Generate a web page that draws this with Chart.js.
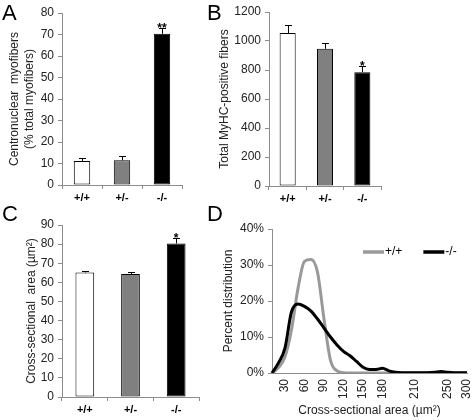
<!DOCTYPE html>
<html>
<head>
<meta charset="utf-8">
<script src="https://cdn.jsdelivr.net/npm/chart.js@4.4.0/dist/chart.umd.min.js"></script>
<style>
    html, body { margin: 0; padding: 0; background: #fff; }
    #painel { position: relative; width: 474px; height: 420px; overflow: hidden; font-family: "Liberation Sans", Arial, sans-serif; }
    #painel canvas { position: absolute; }
    .letra { position: absolute; font-size: 22px; line-height: 1; color: #000; }
</style>
</head>
<body>
<div id="painel">
    <canvas id="graficoA" width="237" height="210" style="left:0;top:0"></canvas>
    <canvas id="graficoB" width="274" height="210" style="left:200px;top:0"></canvas>
    <canvas id="graficoC" width="237" height="210" style="left:0;top:210px"></canvas>
    <canvas id="graficoD" width="274" height="210" style="left:200px;top:210px"></canvas>
    <div class="letra" style="left:2px;top:2px">A</div>
    <div class="letra" style="left:207px;top:2px">B</div>
    <div class="letra" style="left:2px;top:203px">C</div>
    <div class="letra" style="left:207px;top:203px">D</div>
</div>
<script>
// genotipos e cores das barras
const genotipos = ['+/+', '+/-', '-/-'];
const coresBarras = ['#ffffff', '#808080', '#000000'];

// A - fibras centronucleares (% do total)
const centronucleares = [11.2, 11.5, 70.3];
const centronuclearesErro = [1.2, 1.8, 2.8];
const centronuclearesSig = ['', '', '**'];

// B - total de fibras MyHC positivas
const fibrasTotais = [1055, 946, 785];
const fibrasTotaisErro = [58, 38, 45];
const fibrasTotaisSig = ['', '', '*'];

// C - area de secao transversal
const areaSecao = [65.2, 64.4, 80.3];
const areaSecaoErro = [0.8, 0.8, 2.8];
const areaSecaoSig = ['', '', '*'];

// D - distribuicao da area de secao transversal
const rotulosArea = ['', '', '30', '', '', '60', '', '', '90', '', '', '120', '', '', '150', '', '', '180',
    '', '', '', '', '210', '', '', '', '', '250', '', '', '300'];
const distribuicaoSelvagem = [0, 1.5, 4.5, 12, 23.5, 31, 31.5, 28, 15, 3.5, 0.6, 0.1, 0, 0, 0, 0,
    0, 0, 0, 0, 0, 0, 0, 0, 0, 0, 0, 0, 0, 0, 0];
const distribuicaoKO = [0, 2.8, 7, 17, 19.2, 18.5, 17.2, 15, 12.5, 10, 7.8, 6, 4.8, 3.2, 1.6, 1.0,
    1.0, 1.3, 0.6, 0.2, 0.1, 0.1, 0.1, 0.1, 0.1, 0.2, 0.4, 0.2, 0.1, 0.1, 0.1];

Chart.defaults.font.family = '"Liberation Sans", Arial, sans-serif';
Chart.defaults.font.size = 12;
Chart.defaults.color = '#222';

// barras de erro (so para cima) e asteriscos de significancia
const pluginBarrasErro = {
    id: 'barrasErro',
    afterDatasetsDraw(chart, args, opts) {
        if (!opts.erros) return;
        const { ctx } = chart;
        const y = chart.scales.y;
        const valores = chart.data.datasets[0].data;
        ctx.save();
        ctx.strokeStyle = '#000';
        ctx.lineWidth = 1;
        ctx.fillStyle = '#000';
        ctx.font = 'bold 12px "Liberation Sans", Arial, sans-serif';
        ctx.textAlign = 'center';
        chart.getDatasetMeta(0).data.forEach((barra, i) => {
            const yBarra = y.getPixelForValue(valores[i]);
            const yTopo = Math.round(y.getPixelForValue(valores[i] + opts.erros[i])) + 0.5;
            const xc = Math.round(barra.x) + 0.5;
            ctx.beginPath();
            ctx.moveTo(xc, yBarra);
            ctx.lineTo(xc, yTopo);
            ctx.moveTo(xc - 3.5, yTopo);
            ctx.lineTo(xc + 3.5, yTopo);
            ctx.stroke();
            if (opts.sig && opts.sig[i]) {
                ctx.fillText(opts.sig[i], barra.x, yTopo + 3);
            }
        });
        ctx.restore();
    }
};

// legenda desenhada dentro da area do grafico
const pluginLegenda = {
    id: 'legendaInterna',
    afterDraw(chart, args, opts) {
        if (!opts.ativa) return;
        const { ctx, chartArea } = chart;
        let x = chartArea.left + opts.x;
        const y = chartArea.top + opts.y;
        ctx.save();
        ctx.font = '12px "Liberation Sans", Arial, sans-serif';
        ctx.textBaseline = 'middle';
        ctx.textAlign = 'left';
        chart.data.datasets.forEach(ds => {
            ctx.strokeStyle = ds.borderColor;
            ctx.lineWidth = 3.5;
            ctx.beginPath();
            ctx.moveTo(x, y);
            ctx.lineTo(x + opts.comprimento, y);
            ctx.stroke();
            x += opts.comprimento + 1;
            ctx.fillStyle = '#000';
            ctx.fillText(ds.label, x, y);
            x += ctx.measureText(ds.label).width + opts.espaco;
        });
        ctx.restore();
    }
};

// rotulos do eixo x na vertical (lidos de baixo para cima)
const pluginRotulosVerticais = {
    id: 'rotulosVerticais',
    afterDraw(chart, args, opts) {
        if (!opts.ativa) return;
        const { ctx } = chart;
        const eixoX = chart.scales.x;
        ctx.save();
        ctx.font = '12px "Liberation Sans", Arial, sans-serif';
        ctx.fillStyle = '#222';
        ctx.textAlign = 'right';
        ctx.textBaseline = 'middle';
        chart.data.labels.forEach((rotulo, i) => {
            if (!rotulo) return;
            ctx.save();
            ctx.translate(eixoX.getPixelForValue(i), eixoX.top + opts.distancia);
            ctx.rotate(-Math.PI / 2);
            ctx.fillText(rotulo, 0, 0);
            ctx.restore();
        });
        ctx.restore();
    }
};

Chart.register(pluginBarrasErro, pluginLegenda, pluginRotulosVerticais);

function eixoY(max, passo, larguraEixo, titulo, tituloPad, formato) {
    return {
        min: 0,
        max: max,
        afterFit: (escala) => { escala.width = larguraEixo; },
        border: { display: true, color: '#8c8c8c', width: 1 },
        grid: { drawOnChartArea: false, drawTicks: true, tickLength: 4, color: '#8c8c8c' },
        ticks: {
            stepSize: passo,
            padding: 4,
            color: '#222',
            callback: formato || ((v) => v)
        },
        title: {
            display: true,
            text: titulo,
            color: '#222',
            font: { size: 12, lineHeight: 1.2 },
            padding: { top: tituloPad, bottom: 0 }
        }
    };
}

function criarGraficoBarras(idCanvas, valores, erros, sig, cfg) {
    const ctx = document.getElementById(idCanvas);
    return new Chart(ctx.getContext('2d'), {
        type: 'bar',
        data: {
            labels: genotipos,
            datasets: [{
                data: valores,
                backgroundColor: coresBarras,
                borderColor: '#000',
                borderWidth: 1,
                borderSkipped: false,
                categoryPercentage: 1,
                barPercentage: cfg.barra
            }]
        },
        options: {
            responsive: false,
            animation: false,
            layout: { padding: { left: 0, top: cfg.topo, right: cfg.direita, bottom: 0 } },
            plugins: {
                legend: { display: false },
                tooltip: { enabled: false },
                barrasErro: { erros: erros, sig: sig }
            },
            scales: {
                x: {
                    afterFit: (escala) => { escala.height = cfg.alturaX; },
                    border: { display: true, color: '#8c8c8c', width: 1 },
                    grid: { drawOnChartArea: false, drawTicks: true, tickLength: 4, color: '#8c8c8c', offset: true },
                    ticks: { padding: 2, color: '#000', font: { size: 11, weight: 'bold' } }
                },
                y: eixoY(cfg.max, cfg.passo, cfg.larguraY, cfg.titulo, cfg.tituloPad)
            }
        }
    });
}

document.addEventListener("DOMContentLoaded", () => {
    criarGraficoBarras('graficoA', centronucleares, centronuclearesErro, centronuclearesSig, {
        max: 80, passo: 10, larguraY: 62, topo: 13, direita: 55, alturaX: 25, barra: 0.41,
        titulo: ['Centronuclear  myofibers', '(% total myofibers)'], tituloPad: 7.8
    });

    criarGraficoBarras('graficoB', fibrasTotais, fibrasTotaisErro, fibrasTotaisSig, {
        max: 1200, passo: 200, larguraY: 69, topo: 12, direita: 93, alturaX: 24, barra: 0.43,
        titulo: 'Total MyHC-positive fibers', tituloPad: 17.6
    });

    criarGraficoBarras('graficoC', areaSecao, areaSecaoErro, areaSecaoSig, {
        max: 90, passo: 10, larguraY: 62, topo: 15, direita: 38, alturaX: 23, barra: 0.41,
        titulo: 'Cross-sectional  area (\u00b5m\u00b2)', tituloPad: 24.3
    });

    new Chart(document.getElementById('graficoD').getContext('2d'), {
        type: 'line',
        data: {
            labels: rotulosArea,
            datasets: [{
                label: '+/+',
                data: distribuicaoSelvagem,
                borderColor: '#999999',
                borderWidth: 3,
                pointRadius: 0,
                cubicInterpolationMode: 'monotone',
                order: 1
            }, {
                label: '-/-',
                data: distribuicaoKO,
                borderColor: '#000000',
                borderWidth: 3,
                pointRadius: 0,
                cubicInterpolationMode: 'monotone',
                order: 0
            }]
        },
        options: {
            responsive: false,
            animation: false,
            layout: { padding: { left: 0, top: 19, right: 7, bottom: 0 } },
            plugins: {
                legend: { display: false },
                tooltip: { enabled: false },
                legendaInterna: { ativa: true, x: 91, y: 23, comprimento: 21, espaco: 21 },
                rotulosVerticais: { ativa: true, distancia: 6 }
            },
            scales: {
                x: {
                    afterFit: (escala) => { escala.height = 47; },
                    border: { display: true, color: '#8c8c8c', width: 1 },
                    grid: { drawOnChartArea: false, drawTicks: false },
                    ticks: { display: false, autoSkip: false },
                    title: {
                        display: true,
                        text: 'Cross-sectional area (\u00b5m\u00b2)',
                        color: '#222',
                        font: { size: 12 },
                        padding: { top: 0, bottom: 2 }
                    }
                },
                y: eixoY(40, 10, 72, 'Percent distribution', 21.8, (v) => v + '%')
            }
        }
    });
});
</script>
</body>
</html>
